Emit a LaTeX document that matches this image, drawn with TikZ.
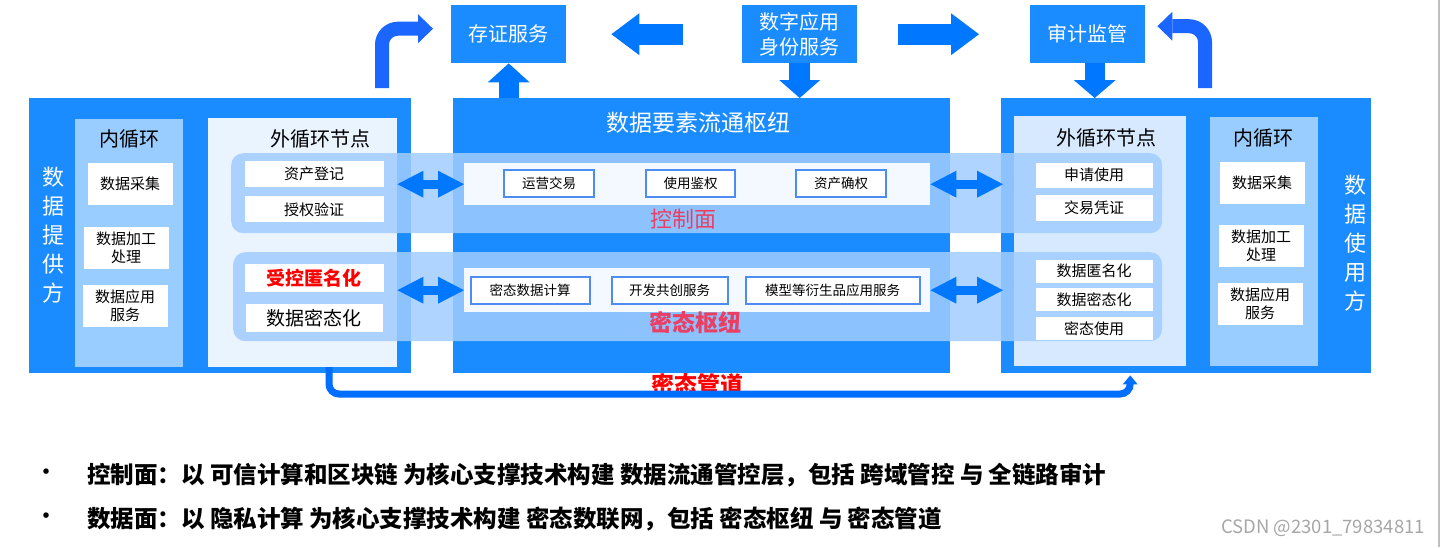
\documentclass[tikz,border=0pt]{standalone}
\usepackage{fontspec}
\setmainfont{Noto Sans CJK SC}
\usetikzlibrary{arrows.meta}
\usetikzlibrary{positioning}
\definecolor{panelblue}{RGB}{26,140,255}
\definecolor{innerblue}{RGB}{153,204,255}
\definecolor{paleA}{RGB}{234,244,255}
\definecolor{paleB}{RGB}{215,233,255}
\definecolor{bandblue}{RGB}{160,205,255}
\definecolor{arrowblue}{RGB}{0,119,255}
\definecolor{bentblue}{RGB}{26,102,255}
\definecolor{pipeblue}{RGB}{0,110,255}
\definecolor{edgeblue}{RGB}{77,140,240}
\definecolor{softred}{RGB}{236,62,98}
\tikzset{
    panel/.style={
           rectangle,
           inner sep=0pt,
           anchor=north west,
           },
}
\tikzset{
    topbox/.style={
           rectangle,
           fill=panelblue,
           text=white,
           inner sep=0pt,
           anchor=north west,
           minimum width=115pt,
           minimum height=58pt,
           align=center,
           font=\fontsize{20}{25}\selectfont,
           },
}
\tikzset{
    cell/.style={
           rectangle,
           fill=white,
           inner sep=0pt,
           minimum width=85pt,
           minimum height=42pt,
           align=center,
           font=\fontsize{15}{18}\selectfont,
           },
}
\tikzset{
    slot/.style={
           rectangle,
           fill=white,
           inner sep=0pt,
           minimum width=139pt,
           minimum height=26pt,
           font=\fontsize{15}{18}\selectfont,
           },
}
\tikzset{
    tag/.style={
           rectangle,
           draw=edgeblue, line width=2pt,
           fill=white,
           inner sep=0pt,
           minimum height=27pt,
           font=\fontsize{13.5}{16}\selectfont,
           },
}
\tikzset{
    band/.style={
           rectangle,
           rounded corners=12pt,
           fill=bandblue, fill opacity=0.85,
           inner sep=0pt,
           anchor=north west,
           },
}
\tikzset{
    blockarrow/.style={
           draw=arrowblue, line width=21pt,
           -{Triangle[width=42pt,length=28pt,line width=0pt]},
           },
}
\tikzset{
    bentarrow/.style={
           draw=bentblue, line width=14pt,
           rounded corners=16pt,
           -{Triangle[width=29pt,length=15pt,line width=0pt]},
           },
}
\tikzset{
    dblarrow/.style={
           draw=arrowblue, line width=9pt,
           {Triangle[width=27pt,length=26pt,line width=0pt]}-{Triangle[width=27pt,length=26pt,line width=0pt]},
           },
}
\tikzset{
    pipe/.style={
           draw=pipeblue, line width=7pt,
           rounded corners=10pt,
           -{Triangle[width=15pt,length=9pt,line width=0pt]},
           },
}
\begin{document}
\begin{tikzpicture}[x=1pt,y=-1pt]
\useasboundingbox (0,0) rectangle (1441,547);
% side panels and hub
\node[panel,fill=panelblue,minimum width=382pt,minimum height=275pt] (lp) at (29,98) {};
\node[panel,fill=innerblue,minimum width=108pt,minimum height=248pt] (lin) at (75,119) {};
\node[panel,fill=paleA,minimum width=189pt,minimum height=249pt] (lon) at (208,118) {};
\node[panel,fill=panelblue,minimum width=497pt,minimum height=275pt] (hub) at (453,98) {};
\node[panel,fill=panelblue,minimum width=370pt,minimum height=275pt] (rp) at (1001,98) {};
\node[panel,fill=paleB,minimum width=172pt,minimum height=250pt] (ron) at (1014,116) {};
\node[panel,fill=innerblue,minimum width=108pt,minimum height=249pt] (rin) at (1210,117) {};
% top services
\node[topbox] (cert) at (451,5) {存证服务};
\node[topbox] (dig) at (742,5) {数字应用\\身份服务};
\node[topbox] (audit) at (1030,5) {审计监管};
% titles
\node[font=\fontsize{22}{29}\selectfont,text=white,align=center] (prov) at (53,235) {数\\据\\提\\供\\方};
\node[font=\fontsize{22}{29}\selectfont,text=white,align=center] (user) at (1355,243) {数\\据\\使\\用\\方};
\node[font=\fontsize{20}{24}\selectfont] (lint) at (129,139) {内循环};
\node[font=\fontsize{20}{24}\selectfont] (lont) at (320,139) {外循环节点};
\node[font=\fontsize{20}{24}\selectfont] (ront) at (1106,138) {外循环节点};
\node[font=\fontsize{20}{24}\selectfont] (rint) at (1263,138) {内循环};
\node[font=\fontsize{23}{28}\selectfont,text=white] (hubt) at (698,123) {数据要素流通枢纽};
% inner loop cells
\node[cell] (l1) at (130,184) {数据采集};
\node[cell] (l2) at (126,248) {数据加工\\处理};
\node[cell] (l3) at (125,306) {数据应用\\服务};
\node[cell] (r1) at (1262,183) {数据采集};
\node[cell] (r2) at (1261,246) {数据加工\\处理};
\node[cell] (r3) at (1260,304) {数据应用\\服务};
% bands
\node[band,minimum width=931pt,minimum height=80pt] (cband) at (231,153) {};
\node[band,minimum width=929pt,minimum height=89pt] (dband) at (233,252) {};
\node[panel,fill={rgb,255:red,244;green,249;blue,255},minimum width=466pt,minimum height=42pt] (hctl) at (464,163) {};
\node[panel,fill={rgb,255:red,244;green,249;blue,255},minimum width=466pt,minimum height=44pt] (hdat) at (464,268) {};
% outer loop slots
\node[slot] (a1) at (314,174) {资产登记};
\node[slot,below=9pt of a1] (a2) {授权验证};
\node[slot,minimum height=28pt,text=red,font=\fontsize{19}{22}\selectfont\bfseries] (a3) at (314,278) {受控匿名化};
\node[slot,minimum height=28pt,minimum width=137pt,font=\fontsize{19}{22}\selectfont,below=12pt of a3] (a4) {数据密态化};
\node[slot,minimum width=117pt,minimum height=25pt] (b1) at (1094,175) {申请使用};
\node[slot,minimum width=117pt,below=7pt of b1] (b2) {交易凭证};
\node[slot,minimum width=117pt,minimum height=23pt] (b3) at (1094,271) {数据匿名化};
\node[slot,minimum width=117pt,minimum height=23pt,below=5pt of b3] (b4) {数据密态化};
\node[slot,minimum width=117pt,minimum height=23pt,below=6pt of b4] (b5) {密态使用};
% hub tags
\node[tag,minimum width=90pt] (h1) at (549,183) {运营交易};
\node[tag,minimum width=89pt,right=50pt of h1] (h2) {使用鉴权};
\node[tag,minimum width=90pt,right=59pt of h2] (h3) {资产确权};
\node[tag,minimum width=119pt] (h4) at (530,290) {密态数据计算};
\node[tag,minimum width=116pt,right=20pt of h4] (h5) {开发共创服务};
\node[tag,minimum width=174pt,right=16pt of h5] (h6) {模型等衍生品应用服务};
\node[font=\fontsize{22}{26}\selectfont,text=softred] (ctl) at (683,219) {控制面};
\node[font=\fontsize{23}{27}\selectfont\bfseries,text=softred] (hinge) at (695,323) {密态枢纽};
\node[font=\fontsize{23}{27}\selectfont\bfseries,text=red] (tube) at (697,385) {密态管道};
% arrows
\path (dig) edge[blockarrow,shorten <=59pt,shorten >=45pt] (cert);
\path (dig) edge[blockarrow,shorten <=41pt,shorten >=51pt] (audit);
\draw[blockarrow,line width=20pt,-{Triangle[width=42pt,length=19pt,line width=0pt]}] (cert.south |- hub.north) -- (cert.south);
\draw[blockarrow,line width=21pt,-{Triangle[width=41pt,length=18pt,line width=0pt]}] (dig.south) -- (dig.south |- hub.north);
\draw[blockarrow,line width=20pt,-{Triangle[width=42pt,length=18pt,line width=0pt]}] ([xshift=7pt]audit.south) -- ([xshift=7pt]audit.south |- rp.north);
\coordinate (lb) at (382,88);
\coordinate (rb) at (1205,88);
\draw[bentarrow,shorten >=18pt] (lb) |- ([yshift=5.5pt]cert.west);
\draw[bentarrow,shorten >=12pt] (rb) |- ([yshift=8pt]audit.east);
\draw[dblarrow] (lon.east |- hctl) -- (hctl.west);
\draw[dblarrow] (lon.east |- hdat) -- (hdat.west);
\draw[dblarrow,shorten >=11pt] (hctl.east) -- (ron.west |- hctl);
\draw[dblarrow,shorten >=11pt] (hdat.east) -- (ron.west |- hdat);
\coordinate (ps) at (329,367);
\draw[pipe] (ps) -- ++(0,27) -| ([xshift=-56pt,yshift=-2pt]rp.south);
% notes
\node[font=\fontsize{26}{28}\selectfont] (d1) at (46,475) {•};
\node[font=\fontsize{26}{28}\selectfont] (d2) at (46,519) {•};
\node[anchor=west,inner sep=0pt,font=\fontsize{23.5}{27}\selectfont\bfseries] (n1) at (87,475) {控制面：以 可信计算和区块链 为核心支撑技术构建 数据流通管控层，包括 跨域管控 与 全链路审计};
\node[anchor=west,inner sep=0pt,font=\fontsize{23.5}{27}\selectfont\bfseries] (n2) at (87,519) {数据面：以 隐私计算 为核心支撑技术构建 密态数联网，包括 密态枢纽 与 密态管道};
\node[anchor=east,inner sep=0pt,text=black!35,font=\fontsize{18.5}{20}\selectfont] (wm) at (1425,528) {CSDN @2301\_79834811};
\draw[black!25,line width=2pt] (1439,0) -- (1439,547);
\end{tikzpicture}
\end{document}
